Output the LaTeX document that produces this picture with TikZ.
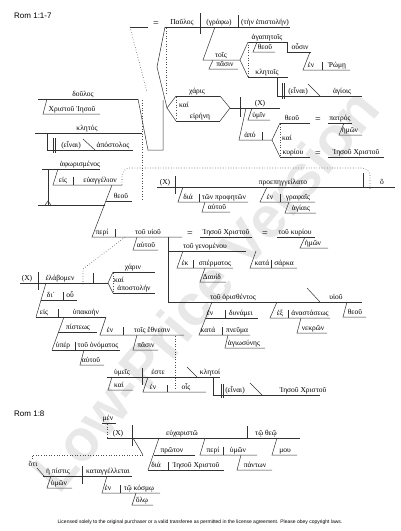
\documentclass[tikz,border=0pt]{standalone}
\usepackage{fontspec}
\setmainfont{Liberation Serif}
\newfontfamily\sansf{Liberation Sans}
\newcommand\W[4]{\node[txt] (#1) at (#2,#3) {#4};}
\begin{document}
\begin{tikzpicture}[x=1pt,y=-1pt,
 ln/.style={line width=0.5pt, draw=black!80},
 dl/.style={line width=0.6pt, draw=black!70, dotted},
 txt/.style={anchor=base, inner sep=0pt, font=\fontsize{7.5}{8}\selectfont},
 eqs/.style={anchor=base, inner sep=0pt, font=\fontsize{10}{10}\selectfont},
 hdr/.style={anchor=base west, inner sep=0pt, font=\sansf\fontsize{8}{9}\selectfont},
 lic/.style={anchor=base, inner sep=0pt, font=\sansf\fontsize{5}{6}\selectfont}]
\useasboundingbox (0,0) rectangle (400,531);
\fill[white] (0,0) rectangle (400,531);
\node[rotate=50, font=\sansf\bfseries\fontsize{58}{58}\selectfont, text=black!9] (wm) at (205,290) {Low-Price Version};
% headers
\node[hdr] (h1) at (14,18) {Rom 1:1-7};
\node[hdr] (h2) at (14,416) {Rom 1:8};
\node[lic] (lic) at (200,523) {Licensed solely to the original purchaser or a valid transferee as permitted in the license agreement. Please obey copyright laws.};
% top clause
\draw[ln] (130,27) -- (148,27);
\node[eqs] (eq1) at (156,26) {=};
\draw[ln] (165,27) -- (290,27);
\draw[ln] (200,13) -- (200,34);
\draw[ln] (238,15) -- (238,27);
\W{paulos}{182}{24}{Παῦλος}
\W{grapho}{219}{24}{(γράφω)}
\W{epist}{265}{24}{(τὴν ἐπιστολήν)}
% tois pasin
\draw[ln] (215,27) -- (203,60) -- (240,60);
\W{tois}{221}{57.5}{τοῖς}
\draw[ln] (213,60) -- (209,69) -- (238,69);
\W{pasin}{225}{66.5}{πᾶσιν}
\draw[ln] (248,42) -- (240,60) -- (248,77);
\draw[ln] (248,42) -- (287,42); \W{agap}{267}{39.5}{ἀγαπητοῖς}
\draw[dl] (248,42) -- (248,77);
\draw[ln] (248,77) -- (288,77); \W{kletois}{267}{74.5}{κλητοῖς}
\draw[ln] (257,42) -- (253,52) -- (275,52); \W{theoua}{265}{49.5}{θεοῦ}
\draw[ln] (287,42) -- (287,52) -- (311,52); \W{ousin}{300}{49.5}{οὖσιν}
\draw[ln] (310,52) -- (303,70) -- (350,70); \W{ena}{311}{67.5}{ἐν}
\draw[ln] (322,62) -- (322,70); \W{rome}{337}{67.5}{Ῥώμῃ}
\draw[ln] (277,77) -- (277,96) -- (362,96);
\draw[ln] (282,83) -- (282,99); \draw[ln] (284.5,83) -- (284.5,99);
\W{einaia}{298}{93.5}{(εἶναι)}
\draw[ln] (308,84) -- (320,96);
\W{hagiois}{342}{93.5}{ἁγίοις}
% link clauses
\draw[ln] (165,27) -- (157,67) -- (167,108);
\draw[dl] (166,28) -- (166,95);
% charis
\draw[ln] (176,96) -- (220,96); \W{charis}{197}{93.5}{χάρις}
\draw[ln] (176,121) -- (220,121); \W{eirene}{200}{118.5}{εἰρήνη}
\draw[ln] (176,96) -- (167,108) -- (176,121);
\draw[dl] (176,97) -- (176,120); \W{kaia}{184}{107}{καί}
\draw[ln] (220,96) -- (230,108) -- (220,121);
\draw[ln] (230,108) -- (280,108);
\draw[ln] (240,97) -- (240,117);
\W{Xa}{260}{105.5}{(X)}
\draw[ln] (252,108) -- (248,120) -- (270,120); \W{hymin}{259}{117.5}{ὑμῖν}
\draw[ln] (246,108) -- (239,140) -- (272,140);
\W{apo}{250}{137.5}{ἀπό}; \draw[ln] (262,132) -- (262,140);
\draw[ln] (280,123) -- (272,140) -- (280,157);
\draw[ln] (280,123) -- (310,123); \W{theoub}{292}{120.5}{θεοῦ}
\draw[dl] (280,124) -- (280,156); \W{kaib}{287}{140}{καί}
\draw[ln] (280,157) -- (310,157); \W{kyrioua}{293}{154.5}{κυρίου}
\node[eqs] (eq2) at (318,122) {=};
\draw[ln] (328,123) -- (352,123); \W{patros}{340}{120.5}{πατρός}
\draw[ln] (344,123) -- (339,135) -- (362,135); \W{hemona}{350}{132.5}{ἡμῶν}
\node[eqs] (eq3) at (318,156) {=};
\draw[ln] (328,157) -- (384,157); \W{ica}{356}{154.5}{Ἰησοῦ Χριστοῦ}
% appositives
\draw[ln] (38,99) -- (138,99); \W{doulos}{83}{96.5}{δοῦλος}
\draw[ln] (47,99) -- (43,114) -- (100,114); \W{cj}{72}{111.5}{Χριστοῦ Ἰησοῦ}
\draw[ln] (35,133) -- (142,133); \W{kletos}{87}{130.5}{κλητός}
\draw[ln] (47,133) -- (47,150) -- (133,150);
\draw[ln] (53,138) -- (53,153); \draw[ln] (55.5,138) -- (55.5,153);
\W{einaib}{71}{147.5}{(εἶναι)}
\draw[ln] (83,139) -- (95,150); \W{apost}{113}{147.5}{ἀπόστολος}
\draw[ln] (42,169) -- (100,169); \W{aphor}{80}{166.5}{ἀφωρισμένος}
\draw[ln] (48,169) -- (48,205);
\draw[ln] (58,169) -- (53,185) -- (122,185); \W{eisa}{63}{182.5}{εἰς}
\draw[ln] (73,177) -- (73,185); \W{euang}{100}{182.5}{εὐαγγέλιον}
\draw[ln] (38,205) -- (105,205);
\draw[ln] (45,205) -- (48,201) -- (51,205);
\draw[dl] (130,27) -- (147,92);
\draw[dl] (142,100) -- (142,200);
\draw[ln] (138,99) -- (148,150) -- (163,150) -- (163,100);
% relative link
\draw[dl, rounded corners=8pt] (122,185) -- (122,168) -- (370,168) -- (370,190);
\draw[ln] (363,173) -- (363,187);
\W{ho}{382}{184.5}{ὃ}
\draw[ln] (157,187) -- (395,187);
\W{Xb}{165}{184}{(X)}
\draw[ln] (175,176) -- (175,194);
\W{proep}{283}{184.5}{προεπηγγείλατο}
\draw[ln] (183,187) -- (178,202) -- (248,202); \W{diaa}{188}{199.5}{διά}
\draw[ln] (199,194) -- (199,202); \W{prophet}{224}{199.5}{τῶν προφητῶν}
\draw[ln] (205,202) -- (202,212) -- (230,212); \W{autoua}{217}{209.5}{αὐτοῦ}
\draw[ln] (267,187) -- (260,202) -- (315,202); \W{enb}{270}{199.5}{ἐν}
\draw[ln] (280,194) -- (280,202); \W{graph}{298}{199.5}{γραφαῖς}
\draw[ln] (289,202) -- (285,213) -- (316,213); \W{hagiais}{301}{210.5}{ἁγίαις}
% peri
\draw[ln] (112,185) -- (92,237) -- (182,237);
\draw[ln] (106,201) -- (132,201); \W{theouc}{121}{198.5}{θεοῦ}
\W{peria}{102}{234.5}{περί}; \draw[ln] (115,229) -- (115,237); \W{huiou}{148}{234.5}{τοῦ υἱοῦ}
\node[eqs] (eq4) at (190,236) {=};
\draw[ln] (200,237) -- (252,237); \W{icb}{226}{234.5}{Ἰησοῦ Χριστοῦ}
\node[eqs] (eq5) at (265,236) {=};
\draw[ln] (277,237) -- (315,237); \W{kyrioub}{295}{234.5}{τοῦ κυρίου}
\draw[ln] (305,237) -- (300,248) -- (328,248); \W{hemonb}{313}{245.5}{ἡμῶν}
\draw[ln] (137,237) -- (133,250) -- (158,250); \W{autoub}{146}{247.5}{αὐτοῦ}
\draw[ln] (168,237) -- (168,302);
\draw[ln] (168,251) -- (246,251); \W{genom}{205}{248.5}{τοῦ γενομένου}
\draw[ln] (183,251) -- (177,268) -- (233,268); \W{ek}{185}{265.5}{ἐκ}
\draw[ln] (193,260) -- (193,268); \W{sperm}{215}{265.5}{σπέρματος}
\draw[ln] (205,268) -- (200,282) -- (226,282); \W{david}{212}{279.5}{Δαυίδ}
\draw[ln] (256,251) -- (250,268) -- (297,268); \W{kataa}{262}{265.5}{κατά}
\draw[ln] (271,260) -- (271,268); \W{sarka}{284}{265.5}{σάρκα}
\draw[ln] (168,302) -- (362,302); \W{oris}{233}{299.5}{τοῦ ὁρισθέντος}
\draw[ln] (307,288) -- (320,302); \W{huioub}{336}{299.5}{υἱοῦ}
\draw[ln] (212,302) -- (199,335) -- (250,335);
\draw[ln] (205.5,318) -- (258,318);
\W{enc}{210}{315.5}{ἐν}; \draw[ln] (225,310) -- (225,318); \W{dyn}{241}{315.5}{δυνάμει}
\W{katab}{208}{332.5}{κατά}; \draw[ln] (222,327) -- (222,335); \W{pneuma}{237}{332.5}{πνεῦμα}
\draw[ln] (228,335) -- (225,348) -- (265,348); \W{hagios}{244}{345.5}{ἁγιωσύνης}
\draw[ln] (277,302) -- (270,318) -- (330,318); \W{ex}{280}{315.5}{ἐξ}
\draw[ln] (288,310) -- (288,318); \W{anast}{310}{315.5}{ἀναστάσεως}
\draw[ln] (301,318) -- (297,333) -- (327,333); \W{nekron}{313}{330.5}{νεκρῶν}
\draw[ln] (347,302) -- (343,317) -- (366,317); \W{theoud}{355}{314.5}{θεοῦ}
% elabomen
\draw[ln] (20,283) -- (108,283); \W{Xc}{27}{280}{(X)}
\draw[ln] (38,272) -- (38,290);
\W{elab}{60}{280.5}{ἐλάβομεν}
\draw[dl] (125,237) -- (83,269) -- (83,286);
\draw[ln] (93,273) -- (93,283);
\draw[ln] (113,272) -- (108,283) -- (113,293);
\draw[ln] (113,272) -- (155,272); \W{charin}{133}{269.5}{χάριν}
\draw[dl] (113,273) -- (113,292); \W{kaic}{119}{282}{καί}
\draw[ln] (113,293) -- (155,293); \W{apostolen}{134}{290.5}{ἀποστολήν}
\draw[ln] (46,283) -- (36,317);
\draw[ln] (41,300) -- (77,300); \W{di}{51}{297.5}{δι᾽}
\draw[ln] (63,292) -- (63,300); \W{hou}{70}{297.5}{οὗ}
\draw[ln] (36,317) -- (106,317); \W{eisb}{44}{314.5}{εἰς}
\draw[ln] (58,309) -- (58,317); \W{hypak}{86}{314.5}{ὑπακοήν}
\draw[ln] (64,317) -- (52,350);
\draw[ln] (58,332) -- (97,332); \W{pisteos}{78}{329.5}{πίστεως}
\draw[ln] (52,350) -- (120,350); \W{hyper}{63}{347.5}{ὑπέρ}
\draw[ln] (75,342) -- (75,350); \W{onom}{98}{347.5}{τοῦ ὀνόματος}
\draw[ln] (84,350) -- (80,365) -- (104,365); \W{autouc}{91}{362.5}{αὐτοῦ}
\draw[ln] (106,317) -- (100,335) -- (184,335); \W{end}{110}{332.5}{ἐν}
\draw[ln] (123,327) -- (123,335); \W{ethn}{152}{332.5}{τοῖς ἔθνεσιν}
\draw[ln] (137,335) -- (133,350) -- (158,350); \W{pasinb}{146}{347.5}{πᾶσιν}
\draw[dl] (175,336) -- (175,390);
% hymeis
\draw[ln] (107,377) -- (220,377); \W{hymeis}{122}{374.5}{ὑμεῖς}
\draw[ln] (142,368) -- (142,385); \W{este}{158}{374.5}{ἐστε}
\draw[ln] (187,367) -- (197,377); \W{kletoi}{210}{374.5}{κλητοί}
\draw[ln] (112,377) -- (108,390) -- (133,390); \W{kaid}{119}{387.5}{καί}
\draw[ln] (148,377) -- (143,392) -- (206,392); \W{ene}{153}{389.5}{ἐν}
\draw[ln] (167,385) -- (167,392); \W{hois}{186}{389.5}{οἷς}
\draw[ln] (213,377) -- (213,395) -- (320,395);
\draw[ln] (221,384) -- (221,398); \draw[ln] (223.5,384) -- (223.5,398);
\W{einaic}{235}{392.5}{(εἶναι)}
\draw[ln] (250,383) -- (262,395); \W{icc}{303}{392.5}{Ἰησοῦ Χριστοῦ}
% Rom 1:8
\W{men}{108}{420}{μέν}
\draw[ln] (102,423) -- (116,423); \draw[dl] (107,424) -- (107,438);
\draw[ln] (107,438) -- (300,438); \W{Xd}{118}{435.5}{(X)}
\draw[ln] (132,425) -- (132,446);
\W{euch}{182}{435.5}{εὐχαριστῶ}
\draw[ln] (247,426) -- (247,438); \W{theo}{266}{435.5}{τῷ θεῷ}
\draw[ln] (277,438) -- (272,455) -- (297,455); \W{mou}{285}{452.5}{μου}
\draw[ln] (159,438) -- (148,470);
\draw[ln] (153.8,455) -- (195,455); \W{proton}{172}{452.5}{πρῶτον}
\draw[ln] (148,470) -- (224,470); \W{diab}{156}{467.5}{διά}
\draw[ln] (168,462) -- (168,470); \W{icd}{196}{467.5}{Ἰησοῦ Χριστοῦ}
\draw[ln] (205,438) -- (200,455) -- (257,455); \W{perib}{213}{452.5}{περί}
\draw[ln] (223,447) -- (223,455); \W{hymona}{238}{452.5}{ὑμῶν}
\draw[ln] (241,455) -- (237,470) -- (272,470); \W{panton}{255}{467.5}{πάντων}
\draw[ln] (133,438) -- (143,455);
\draw[dl] (143,455) -- (32,455) -- (32,460);
\W{hoti}{33}{466}{ὅτι}
\draw[ln] (37,468) -- (44,476);
\draw[ln] (43,476) -- (132,476); \W{pistis}{58}{473.5}{ἡ πίστις}
\draw[ln] (82,466) -- (82,484); \W{katang}{108}{473.5}{καταγγέλλεται}
\draw[ln] (51,476) -- (47,488) -- (72,488); \W{hymonb}{59}{485.5}{ὑμῶν}
\draw[ln] (107,476) -- (102,493) -- (160,493); \W{enf}{108}{490.5}{ἐν}
\draw[ln] (120,485) -- (120,493); \W{kosmo}{139}{490.5}{τῷ κόσμῳ}
\draw[ln] (136,493) -- (132,505) -- (153,505); \W{holo}{142}{502.5}{ὅλῳ}
\end{tikzpicture}
\end{document}
